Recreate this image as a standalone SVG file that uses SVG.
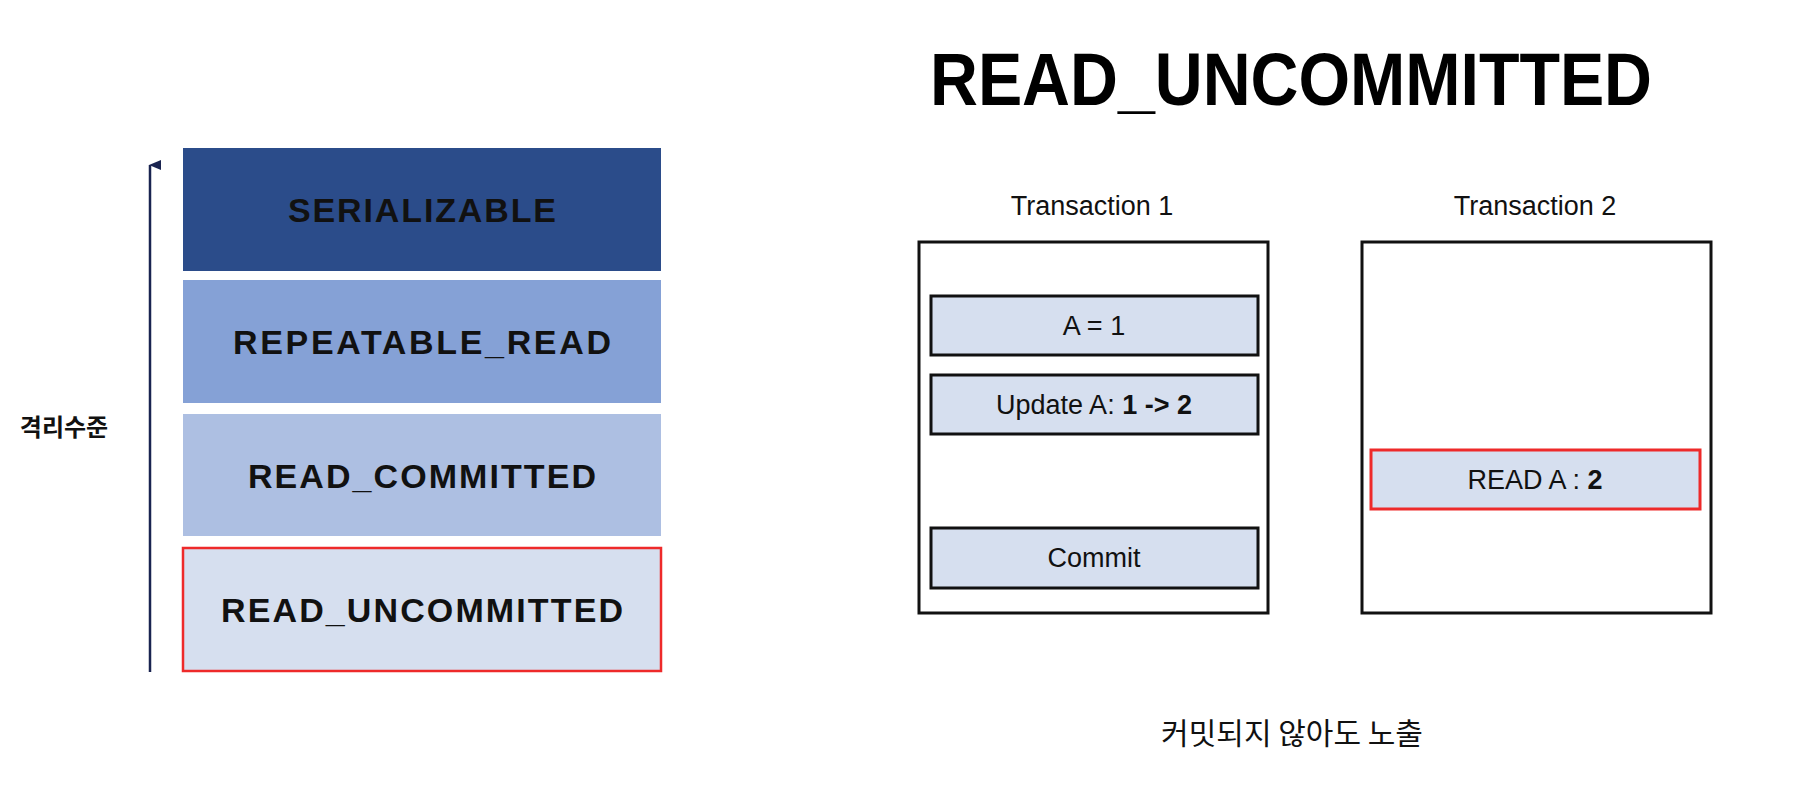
<svg xmlns="http://www.w3.org/2000/svg" width="1803" height="802" viewBox="0 0 1803 802">
<style>
.lvl{font-family:"Liberation Sans",Arial,sans-serif;font-weight:bold;font-size:34px;fill:#111;text-anchor:middle;dominant-baseline:central}
.t{font-family:"Liberation Sans",Arial,sans-serif;font-size:27px;fill:#111;text-anchor:middle;dominant-baseline:central}
.op{fill:#d6dfef;stroke:#111;stroke-width:3}
.tx{fill:#fff;stroke:#111;stroke-width:3}
</style>
<defs><marker id="ah" markerWidth="10" markerHeight="12" refX="5" refY="1" orient="auto" markerUnits="userSpaceOnUse"><path d="M0,12 L5,0 L10,12 Z" fill="#1a2450"/></marker></defs>
<rect width="1803" height="802" fill="#fff"/>
<g id="connectors"><line x1="150" y1="672" x2="150" y2="165" stroke="#1a2450" stroke-width="2.5" marker-end="url(#ah)"/></g>
<text x="64" y="425" font-family="'Noto Sans CJK KR',sans-serif" font-weight="bold" font-size="24" fill="#111" text-anchor="middle" dominant-baseline="central">격리수준</text>
<g id="serializable"><rect x="183" y="148" width="478" height="123" fill="#2b4c8a"/><text class="lvl" x="422" y="210" textLength="268">SERIALIZABLE</text></g>
<g id="repeatable"><rect x="183" y="280" width="478" height="123" fill="#85a1d6"/><text class="lvl" x="422" y="342" textLength="378">REPEATABLE_READ</text></g>
<g id="committed"><rect x="183" y="414" width="478" height="122" fill="#adbfe2"/><text class="lvl" x="422" y="476" textLength="348">READ_COMMITTED</text></g>
<g id="uncommitted"><rect x="183" y="548" width="478" height="123" fill="#d6dfef" stroke="#ee2a2a" stroke-width="2.5"/><text class="lvl" x="422" y="610" textLength="402">READ_UNCOMMITTED</text></g>
<text x="1291" y="79" font-family="'Liberation Sans',Arial,sans-serif" font-weight="bold" font-size="74" fill="#000" text-anchor="middle" dominant-baseline="central" textLength="722" lengthAdjust="spacingAndGlyphs">READ_UNCOMMITTED</text>
<text class="t" x="1092" y="206">Transaction 1</text>
<text class="t" x="1535" y="206">Transaction 2</text>
<g id="tx1"><rect class="tx" x="919" y="242" width="349" height="371"/></g>
<g id="tx2"><rect class="tx" x="1362" y="242" width="349" height="371"/></g>
<g id="a1"><rect class="op" x="931" y="296" width="327" height="59"/><text class="t" x="1094" y="326">A = 1</text></g>
<g id="upd"><rect class="op" x="931" y="375" width="327" height="59"/><text class="t" x="1094" y="405">Update A: <tspan font-weight="bold">1 -&gt; 2</tspan></text></g>
<g id="commit"><rect class="op" x="931" y="528" width="327" height="60"/><text class="t" x="1094" y="558">Commit</text></g>
<g id="reada"><rect x="1371" y="450" width="329" height="59" fill="#d6dfef" stroke="#ee2a2a" stroke-width="3"/><text class="t" x="1535" y="480">READ A : <tspan font-weight="bold">2</tspan></text></g>
<text x="1292" y="731" font-family="'Noto Sans CJK KR',sans-serif" font-size="30" fill="#111" text-anchor="middle" dominant-baseline="central">커밋되지 않아도 노출</text>
</svg>
